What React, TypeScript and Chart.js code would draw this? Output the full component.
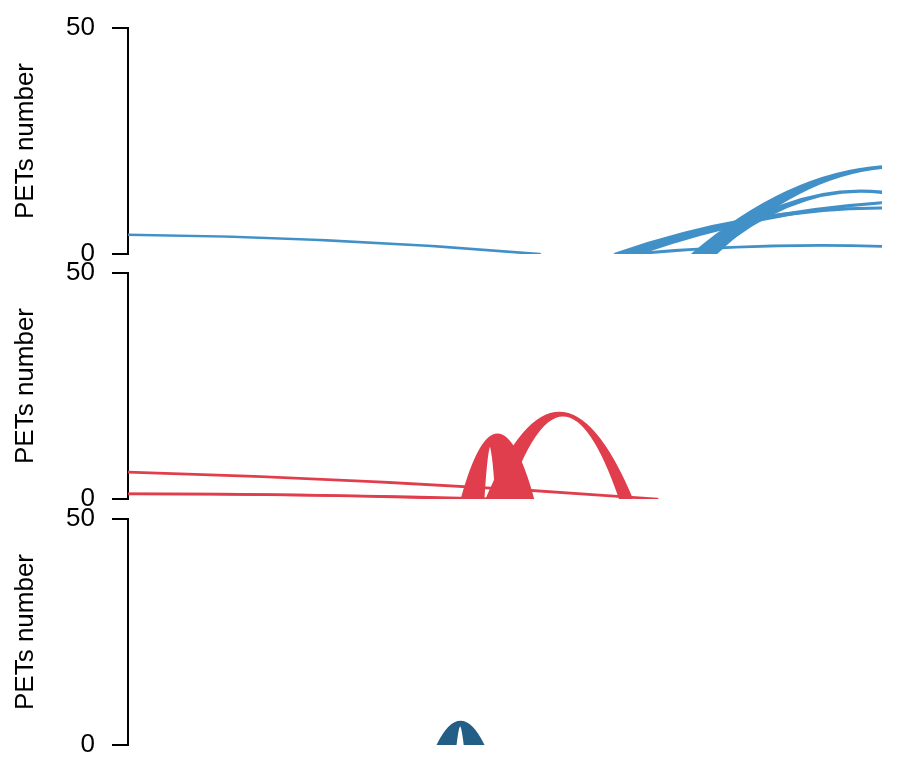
import { useEffect, useRef } from 'react';
import { Chart, registerables } from 'chart.js';

Chart.register(...registerables);

// genomic window shown on x (kb)
const regionStart = 0;
const regionEnd = 100;
const yTicks = [0, 50];

// panel 1 loops (blue)
const blueAnchor1Start = [-68.4, 66.6, 64.6, 65.3, 74.9, 75.6];
const blueAnchor1End = [-68.0, 67.4, 67.2, 67.6, 77.9, 77.5];
const blueAnchor2Start = [54.2, 116.2, 132.2, 150.4, 126.9, 116.7];
const blueAnchor2End = [54.6, 117.0, 134.9, 152.8, 129.8, 118.6];
const bluePets = [4.3, 1.9, 10.2, 11.9, 19.5, 14.0];

// panel 2 loops (red)
const redAnchor1Start = [-155.7, -43.1, -47.5, 44.3, 47.6];
const redAnchor1End = [-155.3, -42.7, -47.1, 47.1, 50.1];
const redAnchor2Start = [69.8, 45.0, 49.0, 48.9, 65.3];
const redAnchor2End = [70.2, 45.4, 49.4, 53.7, 66.8];
const redPets = [6.95, 1.17, 1.12, 14.2, 19.0];

// panel 3 loops (dark blue)
const navyAnchor1Start = [41.1];
const navyAnchor1End = [43.4];
const navyAnchor2Start = [44.7];
const navyAnchor2End = [47.1];
const navyPets = [5.1];

const FONT = "'Liberation Sans', Arial, Helvetica, sans-serif";

interface Loop {
  s1: number;
  e1: number;
  s2: number;
  e2: number;
  pets: number;
}

const toLoops = (s1: number[], e1: number[], s2: number[], e2: number[], pets: number[]): Loop[] =>
  s1.map((v, i) => ({ s1: v, e1: e1[i], s2: s2[i], e2: e2[i], pets: pets[i] }));

// draws each interaction as a filled arch between its two anchors
const makeLoopPlugin = (loops: Loop[], color: string) => ({
  id: 'loops',
  afterDatasetsDraw(chart: any) {
    const { ctx, chartArea, scales } = chart;
    const xs = scales.x;
    const ys = scales.y;
    ctx.save();
    ctx.beginPath();
    ctx.rect(chartArea.left, chartArea.top, chartArea.right - chartArea.left, chartArea.bottom - chartArea.top);
    ctx.clip();
    ctx.fillStyle = color;
    ctx.strokeStyle = color;
    ctx.lineWidth = 2.6;
    ctx.lineJoin = 'round';
    const y0 = ys.getPixelForValue(0);
    loops.forEach(l => {
      // inner edge sits a little lower when the gap between anchors is narrow
      const ratio = Math.pow((l.s2 - l.e1) / (l.e2 - l.s1), 0.1);
      // quadratic control point at twice the height puts the apex at pets
      const ycOuter = ys.getPixelForValue(l.pets * 2);
      const ycInner = ys.getPixelForValue(l.pets * 2 * ratio);
      ctx.beginPath();
      ctx.moveTo(xs.getPixelForValue(l.s1), y0);
      ctx.quadraticCurveTo(xs.getPixelForValue((l.s1 + l.e2) / 2), ycOuter, xs.getPixelForValue(l.e2), y0);
      ctx.lineTo(xs.getPixelForValue(l.s2), y0);
      ctx.quadraticCurveTo(xs.getPixelForValue((l.e1 + l.s2) / 2), ycInner, xs.getPixelForValue(l.e1), y0);
      ctx.closePath();
      ctx.fill();
      ctx.stroke();
    });
    ctx.restore();
  }
});

function LoopPanel({ top, loops, color }: { top: number; loops: Loop[]; color: string }) {
  const canvasRef = useRef<HTMLCanvasElement>(null);

  useEffect(() => {
    if (!canvasRef.current) return;
    const chart = new Chart(canvasRef.current, {
      type: 'line',
      data: { datasets: [] },
      options: {
        responsive: false,
        animation: false,
        layout: { padding: { left: 0, right: 22, top: 20, bottom: 20 } },
        plugins: { legend: { display: false }, tooltip: { enabled: false } },
        scales: {
          x: { type: 'linear', min: regionStart, max: regionEnd, display: false },
          y: {
            type: 'linear',
            min: 0,
            max: 50,
            afterFit: (scale: any) => {
              scale.width = 128;
              scale.paddingTop = 0;
              scale.paddingBottom = 0;
            },
            afterBuildTicks: (scale: any) => { scale.ticks = yTicks.map(v => ({ value: v })); },
            grid: { drawOnChartArea: false, drawTicks: true, tickLength: 16, color: '#000', lineWidth: 2 },
            border: { display: true, color: '#000', width: 2 },
            ticks: { color: '#000', padding: 17, font: { family: FONT, size: 26 } },
            title: {
              display: true,
              text: 'PETs number',
              color: '#000',
              font: { family: FONT, size: 26 },
              padding: { top: 10, bottom: 0 }
            }
          }
        }
      },
      plugins: [makeLoopPlugin(loops, color)]
    });
    return () => chart.destroy();
  }, [loops, color]);

  return (
    <canvas
      ref={canvasRef}
      width={904}
      height={266}
      style={{ position: 'absolute', left: 0, top: top - 20, width: 904, height: 266 }}
    />
  );
}

const blueLoops = toLoops(blueAnchor1Start, blueAnchor1End, blueAnchor2Start, blueAnchor2End, bluePets);
const redLoops = toLoops(redAnchor1Start, redAnchor1End, redAnchor2Start, redAnchor2End, redPets);
const navyLoops = toLoops(navyAnchor1Start, navyAnchor1End, navyAnchor2Start, navyAnchor2End, navyPets);

export default function App() {
  return (
    <div style={{ position: 'absolute', left: 0, top: 0, width: 904, height: 770, background: '#fff' }}>
      <LoopPanel top={28} loops={blueLoops} color="#4191c8" />
      <LoopPanel top={273} loops={redLoops} color="#e03e4c" />
      <LoopPanel top={519} loops={navyLoops} color="#235e86" />
    </div>
  );
}
